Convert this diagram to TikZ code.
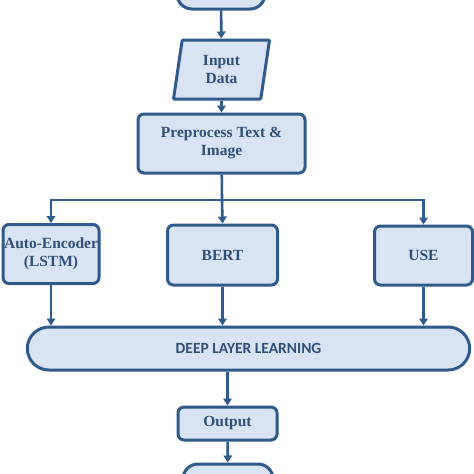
\documentclass[tikz,border=0pt]{standalone}
\usepackage{fontspec}
\setmainfont{Liberation Serif}
\newfontfamily\deepfont{Carlito}
\usetikzlibrary{positioning,calc}
\usetikzlibrary{arrows.meta,shapes.geometric,shapes.misc}
\definecolor{FlowBlue}{RGB}{46,90,140}
\definecolor{FlowFill}{RGB}{216,227,243}
\definecolor{FlowText}{RGB}{48,80,120}
\tikzset{
	blk/.style={draw=FlowBlue,fill=FlowFill,line width=3pt,rounded corners=6pt,inner xsep=1pt,
		align=center,font=\fontsize{15.5}{18}\selectfont\bfseries,text=FlowText},
	io/.style={blk,trapezium,trapezium left angle=76,trapezium right angle=104,
		trapezium stretches body,rounded corners=1pt},
	term/.style={blk,rounded corners=15pt},
	stadium/.style={draw=FlowBlue,fill=FlowFill,line width=3pt,rounded rectangle,
		font=\deepfont\fontsize{15.5}{17}\selectfont\bfseries,text=FlowText},
	flow/.style={draw=FlowBlue,line width=2.6pt},
	arr/.style={flow,-{Triangle[width=8.5pt,length=7pt]}},
}

\begin{document}
\begin{tikzpicture}[x=1pt,y=-1pt]
					\clip (0,0) rectangle (474,474);
					\fill[white] (0,0) rectangle (474,474);
					\node[term,minimum width=88pt,minimum height=44pt] (start) at (221,-13) {};
					\node[io,minimum width=96pt,minimum height=59pt] (data) at (221.5,69.5) {Input\\Data};
					\node[blk,minimum width=167pt,minimum height=59pt] (pre) at (221.5,143.5) {Preprocess Text \&\\Image};
					\node[blk,minimum width=96pt,minimum height=59pt] (ae) at (51,254) {Auto-Encoder\\(LSTM)};
					\node[blk,minimum width=110pt,minimum height=60pt] (bert) at (222.5,255) {BERT};
					\node[blk,minimum width=98pt,minimum height=59pt] (use) at (423.5,255.5) {USE};
					\node[stadium,minimum width=449pt,minimum height=43pt] (deep) at (248.5,348.5) {DEEP LAYER LEARNING};
					\node[blk,minimum width=99pt,minimum height=33pt] (out) at (227.5,423.5) {Output};
					\node[term,minimum width=90pt,minimum height=44pt] (stop) at (228,486) {};
					\coordinate (split) at (222,200);
					\draw[arr] (start) -- (data);
					\draw[arr] (data) -- (pre);
					\draw[flow] (pre) -- (split);
					\draw[arr] (split) -| (ae.north);
					\draw[arr] (split) -- (bert.north);
					\draw[arr] (split) -| (use.north);
					\draw[arr] (ae.south) -- (ae.south |- deep.north);
					\draw[arr] (bert.south) -- (bert.south |- deep.north);
					\draw[arr] (use.south) -- (use.south |- deep.north);
					\draw[arr] (deep.south -| out.north) -- (out.north);
					\draw[arr] (out) -- (stop);
				\end{tikzpicture}
\end{document}
